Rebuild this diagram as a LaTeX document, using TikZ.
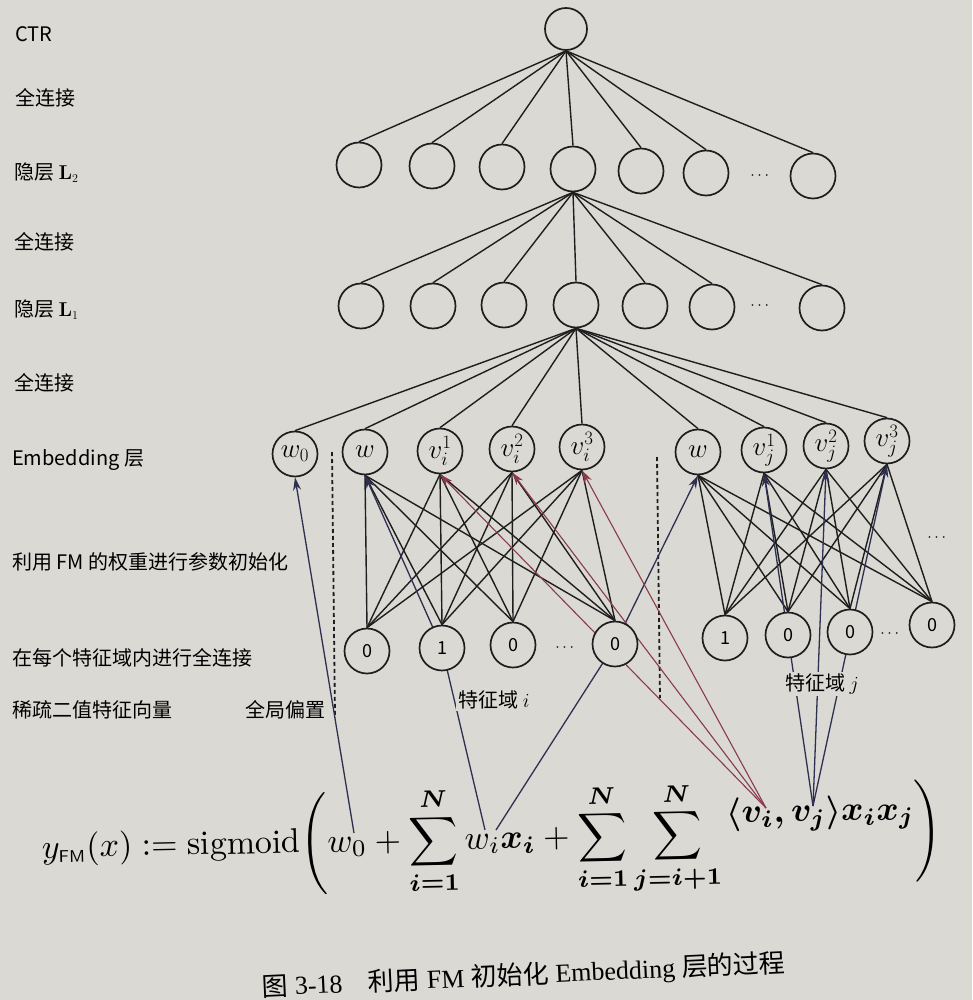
\RequirePackage{fix-cm}
\documentclass[tikz,border=0pt]{standalone}
\usepackage{fontspec}
\usepackage{amsmath}
\usepackage{graphicx}
\newfontfamily\cjk{Noto Sans CJK SC}
\newfontfamily\capserif{Liberation Serif}
\usetikzlibrary{arrows.meta}
\definecolor{paper}{HTML}{DAD9D4}
\definecolor{ink}{HTML}{1E1E1E}
\definecolor{navyline}{HTML}{2E3052}
\definecolor{redline}{HTML}{8A3B4B}
\pgfdeclarelayer{paperlayer}
\pgfdeclarelayer{edgelayer}
\pgfsetlayers{paperlayer,edgelayer,main}
\newsavebox{\fmbox}
\tikzset{
 neuron/.style={circle, draw=ink, line width=1.7pt, fill=paper, minimum size=45pt, inner sep=0pt},
 emb/.style={neuron, font=\fontsize{27}{30}\selectfont},
 bin/.style={neuron, font=\cjk\fontsize{18}{20}\selectfont},
 link/.style={draw=ink, line width=1.4pt},
 fmlink/.style={draw=navyline, line width=1.3pt, -{Stealth[length=13pt,width=8pt]}},
 redlink/.style={draw=redline, line width=1.1pt, -{Stealth[length=13pt,width=8pt]}},
 sepline/.style={draw=ink, line width=1.8pt, dash pattern=on 4pt off 3pt},
 lbl/.style={anchor=west, font=\cjk\fontsize{20}{24}\selectfont, inner sep=0pt},
 dom/.style={font=\cjk\fontsize{20}{24}\selectfont, fill=paper, inner sep=2pt},
 dotsl/.style={font=\fontsize{16}{16}\selectfont, inner sep=0pt},
}
\begin{document}
\begin{tikzpicture}[x=1pt,y=-1pt]
\begin{pgfonlayer}{paperlayer}
\fill[paper] (0,0) rectangle (972,1000);
\end{pgfonlayer}
\useasboundingbox (0,0) rectangle (972,1000);

% left labels
\node[lbl] (tctr) at (15,34) {CTR};
\node[lbl] (tfc3) at (15,98) {全连接};
\node[lbl] (tl2) at (14,173) {隐层 {\rmfamily\bfseries L}\raisebox{-0.25ex}{\fontsize{12}{12}\selectfont\rmfamily 2}};
\node[lbl] (tfc2) at (14,242) {全连接};
\node[lbl] (tl1) at (14,310) {隐层 {\rmfamily\bfseries L}\raisebox{-0.25ex}{\fontsize{12}{12}\selectfont\rmfamily 1}};
\node[lbl] (tfc1) at (14,383) {全连接};
\node[lbl] (temb) at (12,460) {Embedding 层};
\node[lbl] (tinit) at (12,562) {利用 FM 的权重进行参数初始化};
\node[lbl] (tfull) at (12,658) {在每个特征域内进行全连接};
\node[lbl] (tsparse) at (12,710) {稀疏二值特征向量};
\node[lbl] (tbias) at (245,710) {全局偏置};

% top
\node[neuron, minimum size=42pt] (ctr) at (566,29) {};
\node[neuron] (a1) at (359,165) {};
\node[neuron] (a2) at (432,166) {};
\node[neuron] (a3) at (502,167) {};
\node[neuron] (a4) at (573,169) {};
\node[neuron] (a5) at (641,171) {};
\node[neuron] (a6) at (706,173) {};
\node[neuron] (a7) at (813,176) {};
\node[dotsl] (adots) at (761,176) {$\cdots$};

\node[neuron] (h1) at (361,306) {};
\node[neuron] (h2) at (433,306) {};
\node[neuron] (h3) at (504,305) {};
\node[neuron] (h4) at (576,305) {};
\node[neuron] (h5) at (645,306) {};
\node[neuron] (h6) at (712,307) {};
\node[neuron] (h7) at (822,308) {};
\node[dotsl] (hdots) at (761,306) {$\cdots$};

% embedding
\node[emb] (e0) at (295,454) {$w_0$};
\node[emb] (ew) at (365,452) {$w$};
\node[emb] (ev1) at (440,451) {$v_i^1$};
\node[emb] (ev2) at (512,449) {$v_i^2$};
\node[emb] (ev3) at (582,447) {$v_i^3$};
\node[emb] (fw) at (698,452) {$w$};
\node[emb] (fv1) at (764,450) {$v_j^1$};
\node[emb] (fv2) at (826,446) {$v_j^2$};
\node[emb] (fv3) at (887,441) {$v_j^3$};
\node[dotsl] (edots) at (938,538) {$\cdots$};

% binary
\node[bin] (b1) at (367,651) {0};
\node[bin] (b2) at (442,648) {1};
\node[bin] (b3) at (513,645) {0};
\node[bin] (b4) at (615,644) {0};
\node[dotsl] (bdots) at (566,648) {$\cdots$};
\node[bin] (c1) at (725,638) {1};
\node[bin] (c2) at (788,635) {0};
\node[bin] (c3) at (850,632) {0};
\node[bin] (c4) at (932,625) {0};
\node[dotsl] (cdots) at (891,634) {$\cdots$};

\node[dom] (domi) at (494,700) {特征域 $i$};
\node[dom] (domj) at (822,684) {特征域 $j$};

% formula (box height = depth, so its west anchor lies on the baseline)
\sbox{\fmbox}{\raisebox{0pt}[70pt][70pt]{\scalebox{3.4}{$\displaystyle y_{\scriptscriptstyle\mathsf{FM}}(x) \mathrel{\mathop{:}}= \mathrm{sigmoid}\Biggl( w_0 + \sum_{\boldsymbol{i=1}}^{\boldsymbol{N}} w_i \boldsymbol{x_i} + \sum_{\boldsymbol{i=1}}^{\boldsymbol{N}}\sum_{\boldsymbol{j=i+1}}^{\boldsymbol{N}} \raisebox{0.6em}{\boldmath$\langle v_i, v_j\rangle x_i x_j$} \Biggr)$}}}
\node[anchor=west, inner sep=0pt, rotate=1.2] (fm) at (42,858) {\usebox{\fmbox}};
\coordinate (fW0) at (354,833);
\coordinate (fWiL) at (485,830);
\coordinate (fWiR) at (496,830);
\coordinate (fVi) at (766,808);
\coordinate (fVj) at (813,806);

% caption
\node[rotate=2.7, font=\capserif\fontsize{26}{30}\selectfont, inner sep=0pt] (cap) at (524,976) {{\cjk 图} 3-18\hspace{1em}{\cjk 利用} FM {\cjk 初始化} Embedding {\cjk 层的过程}};

\begin{pgfonlayer}{edgelayer}
\foreach \a in {a1,a2,a3,a4,a5,a6,a7} \draw[link] (\a.north) -- (ctr.south);
\foreach \h in {h1,h2,h3,h4,h5,h6,h7} \draw[link] (\h.north) -- (a4.south);
\foreach \e in {e0,ew,ev1,ev2,ev3,fw,fv1,fv2,fv3} \draw[link] (\e.north) -- (h4.south);
\foreach \e in {ew,ev1,ev2,ev3} \foreach \b in {b1,b2,b3,b4} \draw[link] (\b.north) -- (\e.south);
\foreach \e in {fw,fv1,fv2,fv3} \foreach \b in {c1,c2,c3,c4} \draw[link] (\b.north) -- (\e.south);
\draw[sepline] (332,452) -- (335,718);
\draw[sepline] (657,457) -- (660,698);
\draw[fmlink] (fW0) -- (e0.south);
\draw[fmlink] (fWiL) -- (b2.center) -- (ew.south);
\draw[fmlink] (fWiR) -- (b4.center) -- (fw.south);
\foreach \v in {ev1,ev2,ev3} \draw[redlink] (fVi) -- (\v.south);
\foreach \v in {fv1,fv2,fv3} \draw[fmlink] (fVj) -- (\v.south);
\end{pgfonlayer}
\end{tikzpicture}
\end{document}
